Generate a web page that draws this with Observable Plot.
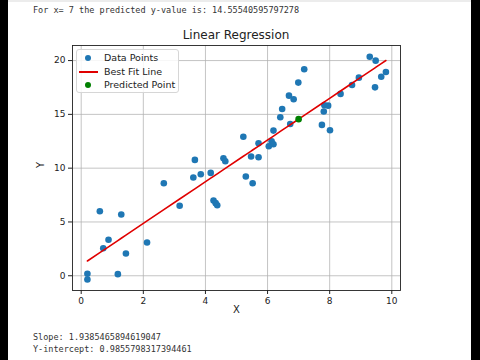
<!DOCTYPE html>
<html>
<head>
<meta charset="utf-8">
<script src="https://cdn.jsdelivr.net/npm/d3@7"></script>
<script src="https://cdn.jsdelivr.net/npm/@observablehq/plot@0.6"></script>
<style>
  html, body { margin: 0; padding: 0; background: #fff; }
  #wrap { position: relative; width: 480px; height: 360px; overflow: hidden; background: #fff; font-family: "DejaVu Sans", sans-serif; }
  .mono { position: absolute; font-family: "DejaVu Sans Mono", monospace; font-size: 8.5px; color: #333; white-space: pre; }
  #title { position: absolute; left: 72px; width: 328px; top: 28px; text-align: center; font-size: 12px; color: #222; }
  #legend { position: absolute; left: 76px; top: 49px; width: 101px; height: 42px; border: 1px solid #d6d6d6; border-radius: 3px; background: rgba(255,255,255,0.85); font-size: 9.5px; color: #222; }
  .row { position: absolute; left: 0; height: 14px; line-height: 14px; }
  .row span.t { position: absolute; left: 27px; white-space: nowrap; }
  .sw { position: absolute; }
  #plot { position: absolute; left: 0; top: 0; }
</style>
</head>
<body>
<div id="wrap">
  <div id="plot"></div>
  <div class="mono" id="top" style="left:33px; top:5px;"></div>
  <div id="title">Linear Regression</div>
  <div id="legend"></div>
  <div class="mono" id="b1" style="left:33px; top:332px;"></div>
  <div class="mono" id="b2" style="left:33px; top:344px;"></div>
  <div style="position:absolute;left:0;top:0;width:8px;height:360px;background:#000"></div>
  <div style="position:absolute;left:471px;top:0;width:9px;height:360px;background:#000"></div>
  <div style="position:absolute;left:8px;top:0;width:463px;height:2px;background:#ececec"></div>
</div>
<script>
const xs = [0.20, 0.20, 0.60, 0.71, 0.88, 1.18, 1.29, 1.44, 2.12, 2.66,
            3.17, 3.61, 3.66, 3.85, 4.17, 4.26, 4.33, 4.38, 4.58, 4.64,
            5.22, 5.30, 5.52, 5.47, 5.71, 5.71, 6.04, 6.13, 6.19, 6.19,
            6.41, 6.47, 6.69, 6.73, 6.84, 6.99, 7.18, 7.75, 7.81, 7.83,
            7.95, 8.01, 8.35, 8.72, 8.94, 9.29, 9.48, 9.46, 9.66, 9.81];
const ys = [0.19, -0.35, 6.00, 2.56, 3.34, 0.15, 5.69, 2.07, 3.09, 8.60,
            6.50, 9.13, 10.77, 9.43, 9.56, 6.99, 6.75, 6.55, 10.92, 10.64,
            12.92, 9.22, 8.60, 11.08, 12.31, 11.01, 12.03, 12.50, 12.22, 13.49,
            14.73, 15.50, 16.74, 14.11, 16.40, 17.95, 19.19, 14.02, 15.26, 15.84,
            15.81, 13.52, 16.90, 17.73, 18.41, 20.36, 19.99, 17.51, 18.50, 18.94];
const slope = 1.9385465894619047;
const intercept = 0.9855798317394461;
const predX = 7;
const predY = 14.55540595797278;
const xTicks = [0, 2, 4, 6, 8, 10];
const yTicks = [0, 5, 10, 15, 20];
const seriesNames = ["Data Points", "Best Fit Line", "Predicted Point"];

const points = xs.map((x, i) => ({x, y: ys[i]}));
const fit = xs.map(x => ({x, y: slope * x + intercept})).sort((a, b) => a.x - b.x);

document.getElementById("top").textContent = `For x= ${predX} the predicted y-value is: ${predY}`;
document.getElementById("b1").textContent = `Slope: ${slope}`;
document.getElementById("b2").textContent = `Y-intercept: ${intercept}`;

const chart = Plot.plot({
  width: 480,
  height: 360,
  marginLeft: 72,
  marginRight: 80,
  marginTop: 45,
  marginBottom: 70,
  style: {fontFamily: "DejaVu Sans, sans-serif", fontSize: "9px", color: "#222", background: "transparent", overflow: "visible"},
  x: {domain: [-0.28, 10.28], ticks: xTicks, tickFormat: d => String(d), label: null},
  y: {domain: [-1.37, 21.4], ticks: yTicks, tickFormat: d => String(d), label: null},
  marks: [
    Plot.gridX(xTicks, {stroke: "#b0b0b0", strokeOpacity: 0.75}),
    Plot.gridY(yTicks, {stroke: "#b0b0b0", strokeOpacity: 0.75}),
    Plot.axisX(xTicks, {tickSize: 4, tickPadding: 3, stroke: "#222"}),
    Plot.axisY(yTicks, {tickSize: 4, tickPadding: 3, stroke: "#222"}),
    Plot.text(["X"], {frameAnchor: "bottom", dy: 22, fontSize: 10}),
    Plot.text(["Y"], {frameAnchor: "left", dx: -32, rotate: -90, fontSize: 10}),
    Plot.dot(points, {x: "x", y: "y", r: 3.3, fill: "#1f77b4", stroke: null}),
    Plot.line(fit, {x: "x", y: "y", stroke: "#e00000", strokeWidth: 1.6}),
    Plot.dot([{x: predX, y: predY}], {x: "x", y: "y", r: 3.3, fill: "green"}),
    Plot.frame({stroke: "#222", strokeWidth: 0.9})
  ]
});
document.getElementById("plot").appendChild(chart);

// legend
const leg = document.getElementById("legend");
const legendStyles = [
  {kind: "dot", color: "#1f77b4"},
  {kind: "line", color: "#e00000"},
  {kind: "dot", color: "green"}
];
seriesNames.forEach((name, i) => {
  const row = document.createElement("div");
  row.className = "row";
  row.style.top = (1 + i * 13.5) + "px";
  row.style.width = "100%";
  const sw = document.createElement("div");
  sw.className = "sw";
  const st = legendStyles[i];
  if (st.kind === "dot") {
    Object.assign(sw.style, {left: "8px", top: "4px", width: "6px", height: "6px", borderRadius: "50%", backgroundColor: st.color});
  } else {
    Object.assign(sw.style, {left: "2px", top: "6px", width: "19px", height: "0px", borderTop: "2px solid " + st.color});
  }
  const t = document.createElement("span");
  t.className = "t";
  t.textContent = name;
  row.appendChild(sw);
  row.appendChild(t);
  leg.appendChild(row);
});
</script>
</body>
</html>
